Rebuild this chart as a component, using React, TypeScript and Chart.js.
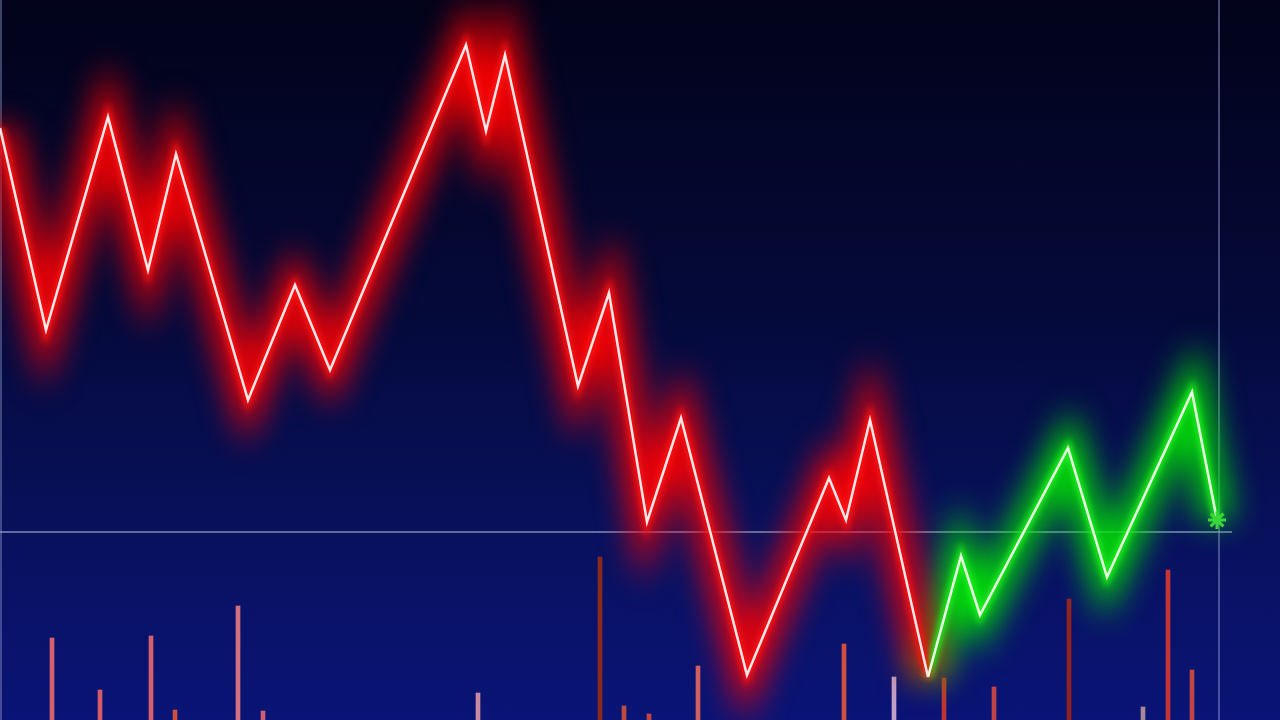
import React, { useEffect, useRef } from "react";
import { Chart, registerables } from "chart.js";

Chart.register(...registerables);

// Price path (time in minutes, price in points)
const redTime = [0, 4.6, 10.8, 14.8, 17.6, 24.8, 29.5, 33.0, 46.6, 48.6, 50.5, 57.8, 60.9, 64.7, 68.1, 74.7, 82.9, 84.6, 87.0, 92.8];
const redPrice = [59.2, 39.0, 60.3, 45.0, 56.6, 32.0, 43.5, 35.0, 67.5, 58.9, 66.5, 33.4, 42.7, 19.8, 30.2, 4.5, 24.2, 20.0, 30.0, 4.3];
const greenTime = [92.8, 96.1, 98.0, 106.8, 110.7, 119.2, 121.7];
const greenPrice = [4.3, 16.4, 10.5, 27.2, 14.3, 32.8, 20.0];

// Volume bars
const volTime = [5.2, 10.0, 15.1, 17.5, 23.8, 26.3, 47.8, 60.0, 62.4, 64.9, 69.8, 84.4, 89.4, 94.4, 99.4, 106.9, 114.3, 116.8, 119.2];
const volValue = [82, 30, 84, 10, 114, 9, 27, 163, 14, 6, 54, 76, 43, 42, 33, 121, 13, 150, 50];
const volColor = ["#d4606e", "#d45a68", "#d4606e", "#d0503e", "#d27080", "#cc6070", "#c88aa0", "#8a2a1c", "#c04a40", "#c04444", "#d06060", "#d05040", "#c4a0c8", "#c03434", "#c04444", "#922222", "#a88898", "#c43434", "#c04444"];

// Reference levels
const strikePrice = 18.8;
const strikeEnd = 123.2;
const expiryTime = 121.9;
const startTime = 0.1;

const X_MIN = 0, X_MAX = 128, Y_MIN = 0, Y_MAX = 72, VOL_MAX = 720;

const pts = (xs: number[], ys: number[]) => xs.map((x, i) => ({ x, y: ys[i] }));

const glowPlugin = {
  id: "glow",
  beforeDatasetDraw(chart: any, args: any) {
    const ds = chart.data.datasets[args.index];
    if (ds.blur) {
      const ctx = chart.ctx;
      ctx.save();
      ctx.filter = `blur(${ds.blur}px)`;
    }
  },
  afterDatasetDraw(chart: any, args: any) {
    const ds = chart.data.datasets[args.index];
    if (ds.blur) chart.ctx.restore();
  },
};

export default function App() {
  const ref = useRef<HTMLCanvasElement>(null);
  useEffect(() => {
    if (!ref.current) return;
    const red = pts(redTime, redPrice);
    const green = pts(greenTime, greenPrice);
    const last = green[green.length - 1];
    const lineBase = { type: "line", pointRadius: 0, tension: 0, fill: false, borderJoinStyle: "miter", yAxisID: "y", clip: false };
    const chart = new Chart(ref.current, {
      type: "line",
      data: {
        datasets: [
          {
            type: "bar",
            data: pts(volTime, volValue),
            backgroundColor: volColor,
            barThickness: 4,
            yAxisID: "yv",
            order: 10,
          },
          { ...lineBase, data: [{ x: startTime, y: Y_MIN }, { x: startTime, y: Y_MAX }], borderColor: "rgba(150,160,210,0.4)", borderWidth: 2, order: 9 },
          { ...lineBase, data: [{ x: X_MIN, y: strikePrice }, { x: strikeEnd, y: strikePrice }], borderColor: "rgba(170,180,215,0.75)", borderWidth: 1.5, order: 9 },
          { ...lineBase, data: [{ x: expiryTime, y: Y_MIN }, { x: expiryTime, y: Y_MAX }], borderColor: "rgba(150,160,215,0.6)", borderWidth: 1.5, order: 9 },
          // wide soft glow
          { ...lineBase, data: red, borderColor: "rgba(255,0,0,0.95)", borderWidth: 30, blur: 16, order: 8 },
          { ...lineBase, data: green, borderColor: "rgba(0,235,0,0.95)", borderWidth: 30, blur: 16, order: 8 },
          // tight glow
          { ...lineBase, data: red, borderColor: "rgba(255,20,20,1)", borderWidth: 8, blur: 3, order: 7 },
          { ...lineBase, data: green, borderColor: "rgba(30,240,30,1)", borderWidth: 8, blur: 3, order: 7 },
          // core
          { ...lineBase, data: red, borderColor: "#ffe8e8", borderWidth: 2.5, order: 6 },
          { ...lineBase, data: green, borderColor: "#eaffe4", borderWidth: 2.5, order: 6 },
          {
            type: "scatter",
            data: [last],
            pointStyle: "star",
            pointRadius: 9,
            borderColor: "#38d838",
            borderWidth: 3,
            backgroundColor: "#38d838",
            yAxisID: "y",
            order: 5,
          },
        ] as any,
      },
      options: {
        animation: false,
        responsive: true,
        maintainAspectRatio: false,
        layout: { padding: 0, autoPadding: false },
        plugins: { legend: { display: false }, tooltip: { enabled: false } },
        events: [],
        scales: {
          x: { type: "linear", min: X_MIN, max: X_MAX, display: false, offset: false },
          y: { type: "linear", min: Y_MIN, max: Y_MAX, display: false },
          yv: { type: "linear", min: 0, max: VOL_MAX, display: false },
        },
      } as any,
      plugins: [glowPlugin],
    });
    return () => chart.destroy();
  }, []);
  return (
    <div
      style={{
        position: "fixed",
        left: 0,
        top: 0,
        width: 1280,
        height: 720,
        background: "linear-gradient(180deg, #02031a 0%, #040937 40%, #08115e 75%, #0a1476 100%)",
      }}
    >
      <canvas ref={ref} />
    </div>
  );
}
